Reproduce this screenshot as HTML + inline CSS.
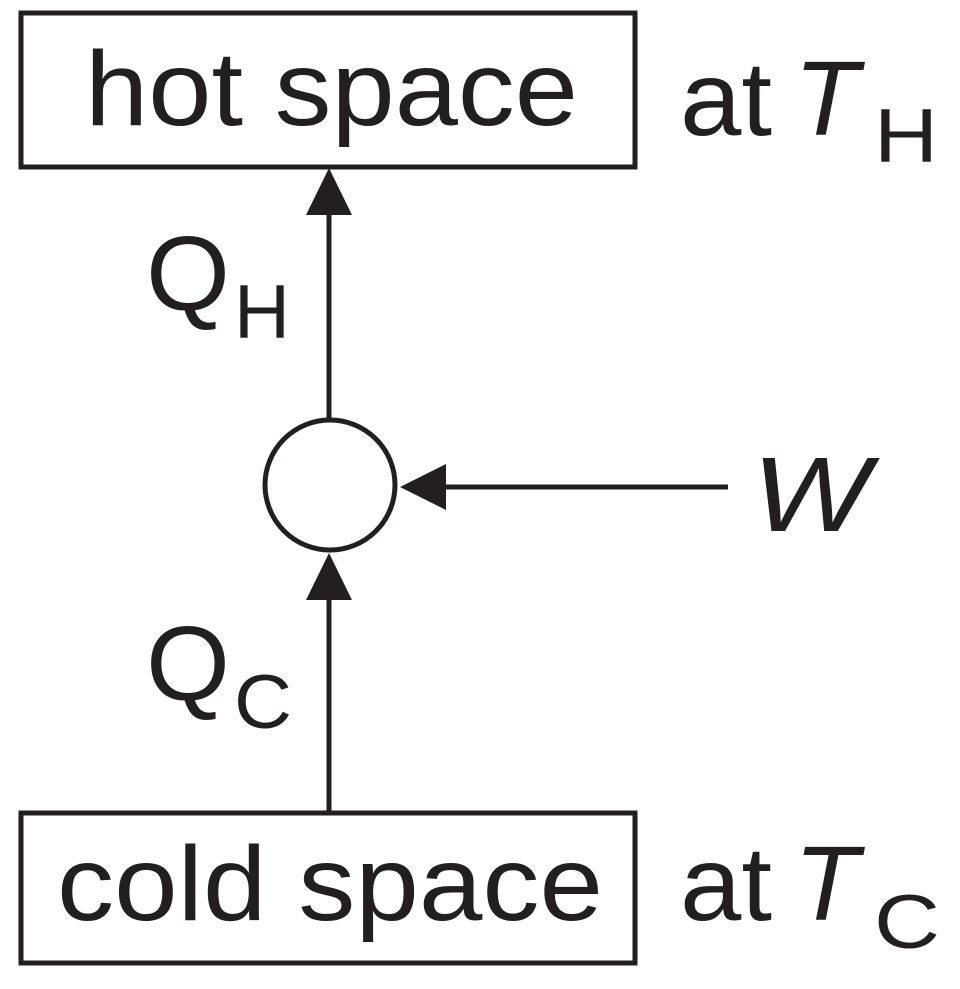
<!DOCTYPE html>
<html><head><meta charset="utf-8"><style>
html,body{margin:0;padding:0;background:#fff;}
svg{display:block;}
text{font-family:"Liberation Sans",Arial,sans-serif;fill:#231f20;}
</style></head><body>
<svg width="960" height="989" viewBox="0 0 960 989" xmlns="http://www.w3.org/2000/svg">
<g stroke="#231f20" stroke-width="5" fill="none">
<rect x="21" y="13" width="614" height="154"/>
<rect x="21" y="813" width="614" height="150"/>
<line x1="329" y1="205" x2="329" y2="420"/>
<line x1="329" y1="595" x2="329" y2="811"/>
<circle cx="330" cy="485" r="65"/>
<line x1="440" y1="487" x2="728" y2="487"/>
</g>
<g fill="#231f20">
<polygon points="329,168 306,215 352,215"/>
<polygon points="329,553 306,600 352,600"/>
<polygon points="400,487 446,464 446,510"/>
</g>
<text x="85" y="125" font-size="106" textLength="493" lengthAdjust="spacingAndGlyphs">hot space</text>
<text x="680" y="135" font-size="106" textLength="92" lengthAdjust="spacingAndGlyphs">at</text>
<text x="794" y="135" font-size="106" font-style="italic">T</text>
<text x="874" y="162" font-size="76" textLength="64" lengthAdjust="spacingAndGlyphs">H</text>
<text x="146" y="310" font-size="106" textLength="84" lengthAdjust="spacingAndGlyphs">Q</text>
<text x="234" y="338" font-size="76" textLength="56" lengthAdjust="spacingAndGlyphs">H</text>
<text x="752" y="531" font-size="106" font-style="italic" textLength="118" lengthAdjust="spacingAndGlyphs">W</text>
<text x="146" y="700" font-size="106" textLength="84" lengthAdjust="spacingAndGlyphs">Q</text>
<text x="234" y="728" font-size="76" textLength="58" lengthAdjust="spacingAndGlyphs">C</text>
<text x="57" y="920" font-size="106" textLength="546" lengthAdjust="spacingAndGlyphs">cold space</text>
<text x="680" y="920" font-size="106" textLength="92" lengthAdjust="spacingAndGlyphs">at</text>
<text x="794" y="920" font-size="106" font-style="italic">T</text>
<text x="874" y="948" font-size="76" textLength="66" lengthAdjust="spacingAndGlyphs">C</text>
</svg>
</body></html>
